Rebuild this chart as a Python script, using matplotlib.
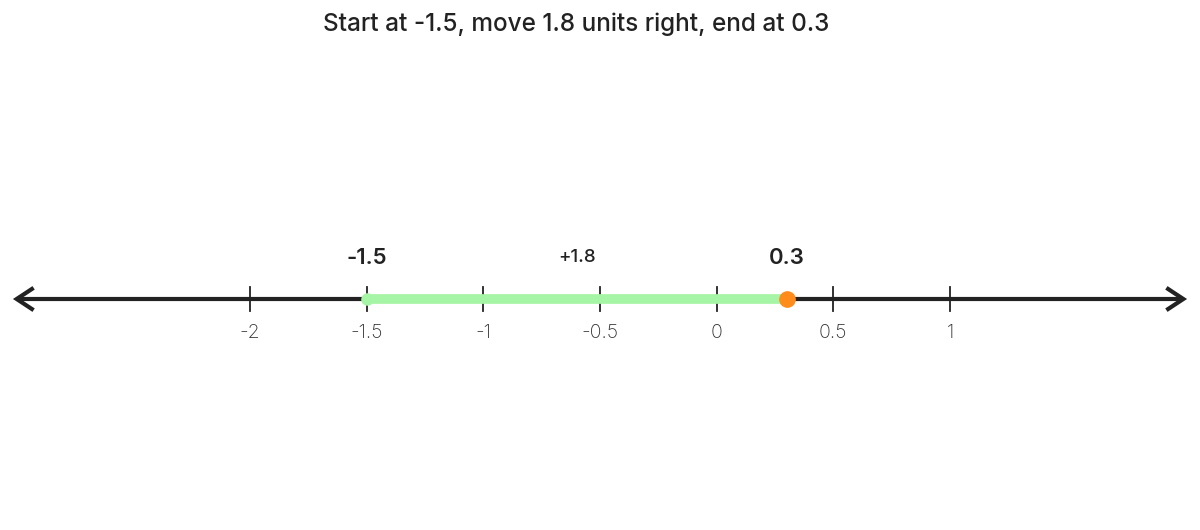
import matplotlib.pyplot as plt

ticks = [-2, -1.5, -1, -0.5, 0, 0.5, 1]
tick_labels = ["-2", "-1.5", "-1", "-0.5", "0", "0.5", "1"]
start = -1.5
move = 1.8
end = 0.3
title = "Start at -1.5, move 1.8 units right, end at 0.3"

fig = plt.figure(figsize=(12, 5.3), dpi=100)
ax = fig.add_axes([0, 0, 1, 1])
ax.set_xlim(-2 - 250/233.3, 1 + 250/233.3)
ax.set_ylim(530, 0)
ax.axis("off")

ax.plot([-3.0, 2.0], [299, 299], color="#222222", lw=3, solid_capstyle="butt", zorder=1)
for xe, d in [(-3.0, 1), (2.0, -1)]:
    dx = 0.065 * d
    ax.plot([xe + dx, xe, xe + dx], [289, 299, 309], color="#222222", lw=3,
            solid_joinstyle="miter", zorder=1)

for t, lab in zip(ticks, tick_labels):
    ax.plot([t, t], [287, 311], color="#222222", lw=1.3, zorder=2)
    ax.text(t, 333, lab, ha="center", va="center", fontsize=14, color="#333333",
            fontfamily="Inter", fontweight="light")

ax.plot([start, end], [299, 299], color="#a6f5a6", lw=7, solid_capstyle="round", zorder=3)
ax.plot([start], [299], "o", color="#a6f5a6", ms=8, zorder=4)
ax.plot([end], [299], "o", color="#ff8c1a", ms=11, zorder=5)

ax.text(start, 258, "-1.5", ha="center", va="center", fontsize=16, fontweight="semibold",
        fontfamily="Inter", color="#222222")
ax.text(end, 258, "0.3", ha="center", va="center", fontsize=16, fontweight="semibold",
        fontfamily="Inter", color="#222222")
ax.text(start + move / 2, 258, "+1.8", ha="center", va="center", fontsize=13.5,
        fontweight="medium", fontfamily="Inter", color="#222222")
ax.text(-0.6, 24, title, ha="center", va="center", fontsize=17.5,
        fontweight="medium", fontfamily="Inter", color="#222222")

fig.savefig("out.png", dpi=100)
